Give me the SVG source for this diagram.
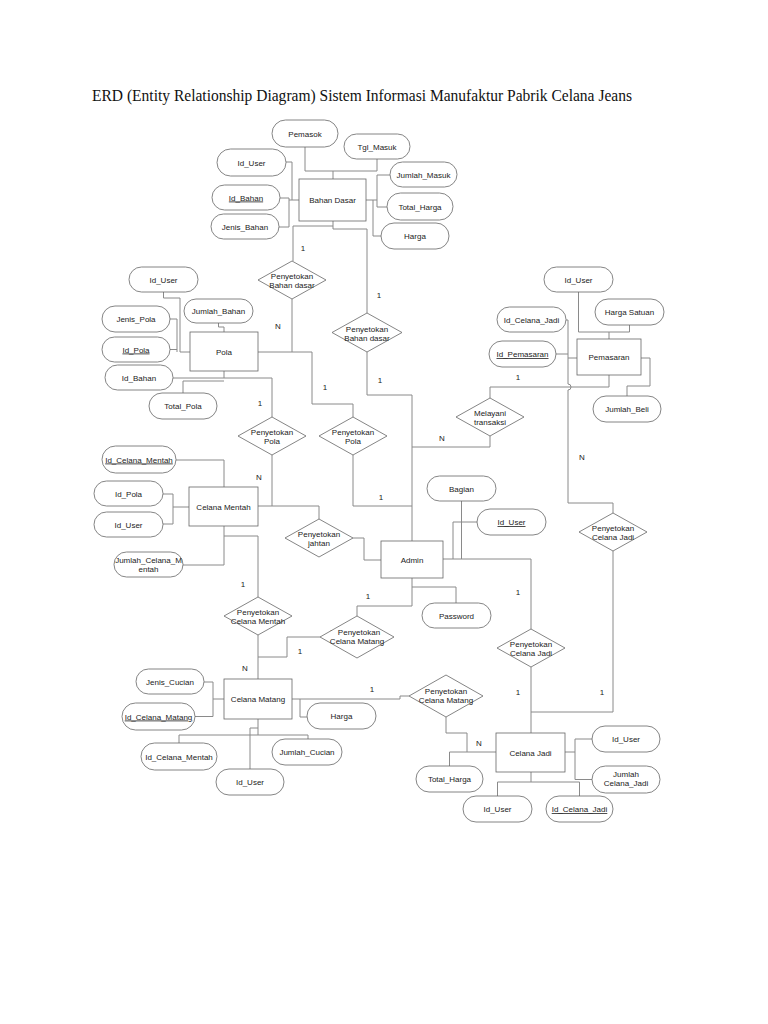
<svg xmlns="http://www.w3.org/2000/svg" width="768" height="1024" viewBox="0 0 768 1024">
<style>
.ent,.att,.rel{fill:#fff;stroke:#666;stroke-width:0.8}
.c{fill:none;stroke:#8a8a8a;stroke-width:1}
.t{font-family:"Liberation Sans",Arial,sans-serif;font-size:8px;fill:#222;text-anchor:middle}
.u{text-decoration:underline}
.title{font-family:"Liberation Serif","Times New Roman",serif;font-size:16px;fill:#111}
</style>
<rect width="768" height="1024" fill="#fff"/>
<text class="title" x="92" y="101" textLength="540" lengthAdjust="spacingAndGlyphs">ERD (Entity Relationship Diagram) Sistem Informasi Manufaktur Pabrik Celana Jeans</text>

<g id="connectors">
<path class="c" d="M305,147 V171 H377 V159 M333,179 V171"/>
<path class="c" d="M286,162 H292 V200 M280,198 H289 M279,227 H289 V198 M289,200 H299"/>
<path class="c" d="M366,200 H377 M377,175 H390 M377,175 V207 H387 M373,200 V236 H381"/>
<path class="c" d="M333,221 V226 H293 V261 M333,226 V229 H367 V313"/>
<path class="c" d="M292,299 V352 M258,352 H312 V404 H353 V417"/>
<path class="c" d="M367,352 V395 H412 V541"/>
<path class="c" d="M353,455 V506 H412"/>
<path class="c" d="M163.5,292 V298 H180 V352 H190 M170,319 H177 V352 M170,349.5 H177 M218.5,323 V327 H224 V332"/>
<path class="c" d="M224,371 V378 H272 V417 M173,378 H224 M183,393 V381 H224"/>
<path class="c" d="M272,455 V506 M258,506 H319 V519"/>
<path class="c" d="M353,538 H364 V560 H381"/>
<path class="c" d="M176,460 H224 V487 M163,494 H173 V524 H163 M173,507 H189 M183,565 H224 V526 M224,536 H258 V597"/>
<path class="c" d="M258,635 V679"/>
<path class="c" d="M412,578 V606 H357 V616 M412,587 H456 V603 M443,559 H531 V629 M461.5,501 V559 M477,522 H453 V559"/>
<path class="c" d="M320,637 H287 V657 H258"/>
<path class="c" d="M531,667 V733"/>
<path class="c" d="M566,320 H568 V384 a3,3 0 0 1 0,6 V503 H613 V513 M613,551 V712 H531"/>
<path class="c" d="M578.5,292 V332 H629.5 V325 M609,339 V332 M556,354 H568 M568,358 H577 M641,358 H650 V386 H627 V396"/>
<path class="c" d="M609,375 V387 H490 V398 M490,436 V447 H412"/>
<path class="c" d="M204,682 H213 V716.5 H195 M213,699 H224 M292,699 H400 V696 H409 M300,699 V717 H307"/>
<path class="c" d="M258,719 V735 M179,735 H308 M179,735 V743 M308,735 V739 M250,769 V728 H258"/>
<path class="c" d="M446,717 V733 H467 V752 H496 M449.5,766 V752 H467"/>
<path class="c" d="M565,752 H575 M592,739 H575 V779.5 H592 M531,772 V782 H497.5 V796 M531,782 H579.5 V796"/>
</g>

<g id="cardinalities" class="t">
<text x="303" y="251">1</text>
<text x="278" y="329">N</text>
<text x="379" y="298">1</text>
<text x="380" y="383">1</text>
<text x="260" y="406">1</text>
<text x="325" y="390">1</text>
<text x="381" y="500">1</text>
<text x="442" y="441">N</text>
<text x="518" y="380">1</text>
<text x="582" y="460">N</text>
<text x="259" y="480">N</text>
<text x="243" y="587">1</text>
<text x="368" y="599">1</text>
<text x="332" y="635">1</text>
<text x="300" y="654">1</text>
<text x="245" y="671">N</text>
<text x="518" y="595">1</text>
<text x="372" y="692">1</text>
<text x="479" y="746">N</text>
<text x="518" y="695">1</text>
<text x="602" y="695">1</text>
</g>

<!-- Entities -->
<g id="bahan_dasar"><rect class="ent" x="299" y="179" width="67" height="42"/><text class="t" x="332.5" y="203">Bahan Dasar</text></g>
<g id="pola"><rect class="ent" x="190" y="332" width="68" height="39"/><text class="t" x="224" y="354.5">Pola</text></g>
<g id="pemasaran"><rect class="ent" x="577" y="339" width="64" height="36"/><text class="t" x="609" y="360">Pemasaran</text></g>
<g id="celana_mentah"><rect class="ent" x="189" y="487" width="69" height="39"/><text class="t" x="223.5" y="509.5">Celana Mentah</text></g>
<g id="admin"><rect class="ent" x="381" y="541" width="62" height="37"/><text class="t" x="412" y="562.5">Admin</text></g>
<g id="celana_matang"><rect class="ent" x="224" y="679" width="68" height="40"/><text class="t" x="258" y="702">Celana Matang</text></g>
<g id="celana_jadi"><rect class="ent" x="496" y="733" width="69" height="39"/><text class="t" x="530.5" y="755.5">Celana Jadi</text></g>

<!-- Bahan Dasar attributes -->
<g id="bd_pemasok"><rect class="att" x="272" y="120" width="66" height="27" rx="13.5"/><text class="t" x="305" y="136.5">Pemasok</text></g>
<g id="bd_tgl_masuk"><rect class="att" x="344" y="134" width="66" height="25" rx="12.5"/><text class="t" x="377" y="149.5">Tgl_Masuk</text></g>
<g id="bd_id_user"><rect class="att" x="217" y="149" width="69" height="27" rx="13.5"/><text class="t" x="251.5" y="165.5">Id_User</text></g>
<g id="bd_jumlah_masuk"><rect class="att" x="390" y="162" width="67" height="25" rx="12.5"/><text class="t" x="423.5" y="177.5">Jumlah_Masuk</text></g>
<g id="bd_id_bahan"><rect class="att" x="212" y="185" width="68" height="25" rx="12.5"/><text class="t u" x="246" y="200.5">Id_Bahan</text></g>
<g id="bd_total_harga"><rect class="att" x="387" y="193" width="66" height="27" rx="13.5"/><text class="t" x="420" y="209.5">Total_Harga</text></g>
<g id="bd_jenis_bahan"><rect class="att" x="211" y="214" width="68" height="25" rx="12.5"/><text class="t" x="245" y="229.5">Jenis_Bahan</text></g>
<g id="bd_harga"><rect class="att" x="381" y="223" width="68" height="26" rx="13"/><text class="t" x="415" y="239">Harga</text></g>

<!-- Pola attributes -->
<g id="pl_id_user"><rect class="att" x="129" y="267" width="69" height="25" rx="12.5"/><text class="t" x="163.5" y="282.5">Id_User</text></g>
<g id="pl_jumlah_bahan"><rect class="att" x="184" y="299" width="69" height="24" rx="12"/><text class="t" x="218.5" y="314">Jumlah_Bahan</text></g>
<g id="pl_jenis_pola"><rect class="att" x="102" y="306" width="68" height="26" rx="13"/><text class="t" x="136" y="322">Jenis_Pola</text></g>
<g id="pl_id_pola"><rect class="att" x="102" y="337" width="68" height="25" rx="12.5"/><text class="t u" x="136" y="352.5">Id_Pola</text></g>
<g id="pl_id_bahan"><rect class="att" x="105" y="365" width="68" height="25" rx="12.5"/><text class="t" x="139" y="380.5">Id_Bahan</text></g>
<g id="pl_total_pola"><rect class="att" x="149" y="393" width="68" height="26" rx="13"/><text class="t" x="183" y="409">Total_Pola</text></g>

<!-- Pemasaran attributes -->
<g id="pm_id_user"><rect class="att" x="544" y="267" width="69" height="25" rx="12.5"/><text class="t" x="578.5" y="282.5">Id_User</text></g>
<g id="pm_harga_satuan"><rect class="att" x="595" y="299" width="69" height="26" rx="13"/><text class="t" x="629.5" y="315">Harga Satuan</text></g>
<g id="pm_id_celana_jadi"><rect class="att" x="497" y="307" width="69" height="25" rx="12.5"/><text class="t" x="531.5" y="322.5">Id_Celana_Jadi</text></g>
<g id="pm_id_pemasaran"><rect class="att" x="489" y="341" width="67" height="26" rx="13"/><text class="t u" x="522.5" y="357">Id_Pemasaran</text></g>
<g id="pm_jumlah_beli"><rect class="att" x="593" y="396" width="68" height="26" rx="13"/><text class="t" x="627" y="412">Jumlah_Beli</text></g>

<!-- Celana Mentah attributes -->
<g id="cm_id_celana_mentah"><rect class="att" x="102" y="446" width="74" height="27" rx="13.5"/><text class="t u" x="139" y="462.5">Id_Celana_Mentah</text></g>
<g id="cm_id_pola"><rect class="att" x="94" y="481" width="69" height="25" rx="12.5"/><text class="t" x="128.5" y="496.5">Id_Pola</text></g>
<g id="cm_id_user"><rect class="att" x="94" y="512" width="69" height="25" rx="12.5"/><text class="t" x="128.5" y="527.5">Id_User</text></g>
<g id="cm_jumlah"><rect class="att" x="114" y="552" width="69" height="25" rx="12.5"/><text class="t" x="148.5" y="563">Jumlah_Celana_M</text><text class="t" x="148.5" y="572">entah</text></g>

<!-- Admin attributes -->
<g id="ad_bagian"><rect class="att" x="427" y="476" width="69" height="25" rx="12.5"/><text class="t" x="461.5" y="491.5">Bagian</text></g>
<g id="ad_id_user"><rect class="att" x="477" y="509" width="69" height="26" rx="13"/><text class="t u" x="511.5" y="525">Id_User</text></g>
<g id="ad_password"><rect class="att" x="422" y="603" width="69" height="25" rx="12.5"/><text class="t" x="456.5" y="618.5">Password</text></g>

<!-- Celana Matang attributes -->
<g id="mt_jenis_cucian"><rect class="att" x="136" y="669" width="68" height="25" rx="12.5"/><text class="t" x="170" y="684.5">Jenis_Cucian</text></g>
<g id="mt_id_celana_matang"><rect class="att" x="122" y="703" width="73" height="27" rx="13.5"/><text class="t u" x="158.5" y="719.5">Id_Celana_Matang</text></g>
<g id="mt_harga"><rect class="att" x="307" y="703" width="69" height="26" rx="13"/><text class="t" x="341.5" y="719">Harga</text></g>
<g id="mt_id_celana_mentah"><rect class="att" x="141" y="743" width="76" height="27" rx="13.5"/><text class="t" x="179" y="759.5">Id_Celana_Mentah</text></g>
<g id="mt_jumlah_cucian"><rect class="att" x="272" y="739" width="70" height="26" rx="13"/><text class="t" x="307" y="755">Jumlah_Cucian</text></g>
<g id="mt_id_user"><rect class="att" x="216" y="769" width="68" height="26" rx="13"/><text class="t" x="250" y="785">Id_User</text></g>

<!-- Celana Jadi attributes -->
<g id="cj_id_user_r"><rect class="att" x="592" y="726" width="68" height="26" rx="13"/><text class="t" x="626" y="742">Id_User</text></g>
<g id="cj_jumlah"><rect class="att" x="592" y="766" width="68" height="27" rx="13.5"/><text class="t" x="626" y="777">Jumlah</text><text class="t" x="626" y="786">Celana_Jadi</text></g>
<g id="cj_total_harga"><rect class="att" x="416" y="766" width="67" height="26" rx="13"/><text class="t" x="449.5" y="782">Total_Harga</text></g>
<g id="cj_id_user_b"><rect class="att" x="463" y="796" width="69" height="26" rx="13"/><text class="t" x="497.5" y="812">Id_User</text></g>
<g id="cj_id_celana_jadi"><rect class="att" x="546" y="796" width="67" height="26" rx="13"/><text class="t u" x="579.5" y="812">Id_Celana_Jadi</text></g>

<!-- Relationships -->
<g id="r_bahan1"><polygon class="rel" points="292,261 326,280 292,299 258,280"/><text class="t" x="292" y="279">Penyetokan</text><text class="t" x="292" y="288">Bahan dasar</text></g>
<g id="r_bahan2"><polygon class="rel" points="367,313 402,332.5 367,352 332,332.5"/><text class="t" x="367" y="331.5">Penyetokan</text><text class="t" x="367" y="340.5">Bahan dasar</text></g>
<g id="r_melayani"><polygon class="rel" points="490,398 524,417 490,436 456,417"/><text class="t" x="490" y="416">Melayani</text><text class="t" x="490" y="425">transaksi</text></g>
<g id="r_pola1"><polygon class="rel" points="272,417 306,436 272,455 238,436"/><text class="t" x="272" y="435">Penyetokan</text><text class="t" x="272" y="444">Pola</text></g>
<g id="r_pola2"><polygon class="rel" points="353,417 387,436 353,455 319,436"/><text class="t" x="353" y="435">Penyetokan</text><text class="t" x="353" y="444">Pola</text></g>
<g id="r_jahitan"><polygon class="rel" points="319,519 353,538 319,557 285,538"/><text class="t" x="319" y="537">Penyetokan</text><text class="t" x="319" y="546">jahtan</text></g>
<g id="r_jadi1"><polygon class="rel" points="613,513 647,532 613,551 579,532"/><text class="t" x="613" y="531">Penyetokan</text><text class="t" x="613" y="540">Celana Jadi</text></g>
<g id="r_mentah"><polygon class="rel" points="258,597 292,616 258,635 224,616"/><text class="t" x="258" y="615">Penyetokan</text><text class="t" x="258" y="624">Celana Mentah</text></g>
<g id="r_matang1"><polygon class="rel" points="357,616 394,637 357,658 320,637"/><text class="t" x="359" y="635">Penyetokan</text><text class="t" x="357" y="644">Celana Matang</text></g>
<g id="r_jadi2"><polygon class="rel" points="531,629 565,648 531,667 497,648"/><text class="t" x="531" y="647">Penyetokan</text><text class="t" x="531" y="656">Celana Jadi</text></g>
<g id="r_matang2"><polygon class="rel" points="446,675 483,696 446,717 409,696"/><text class="t" x="446" y="694">Penyetokan</text><text class="t" x="446" y="703">Celana Matang</text></g>
</svg>
